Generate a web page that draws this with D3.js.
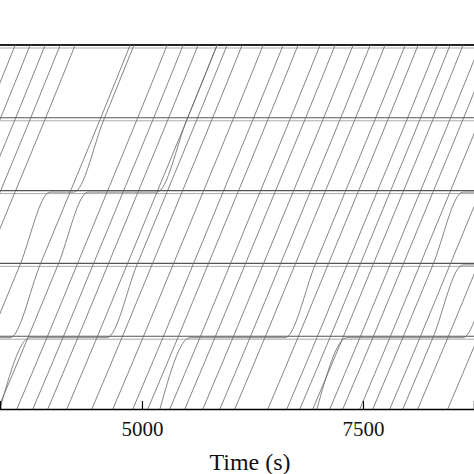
<!DOCTYPE html>
<html>
<head>
<meta charset="utf-8">
<script src="https://d3js.org/d3.v7.min.js"></script>
<style>
  body { margin: 0; background: #fff; }
</style>
</head>
<body>
<svg id="chart" width="474" height="474"></svg>
<script>
// departure times at the first station (s)
var departures = [1696, 1866, 2035, 2205, 2375, 2544, 2940, 2997, 3370, 3393,
  3585, 3766, 3935, 4150, 4433, 4671, 4897, 5066, 5203, 5315, 5485, 5689, 5882,
  6050, 6424, 6639, 6786, 6933, 6979, 7125, 7272, 7464, 7611, 7804, 7951, 8120,
  8459];
// dwells: [departure time of train, station index, dwell (s)]
var dwells = [
  [2997, 1, 170], [3393, 1, 870], [5203, 1, 1075], [6979, 1, 1312],
  [2940, 3, 270], [3370, 3, 780], [7611, 3, 600], [7951, 2, 600]
];
var stations = [0, 1, 2, 3, 4, 5];
var runTime = 340;
var xTicks = [5000, 7500];

var svg = d3.select("#chart");
var x = d3.scaleLinear().domain([3394, 8756]).range([0, 474]);
var y = d3.scaleLinear().domain([0, 5]).range([409, 45]);

svg.append("defs").append("clipPath").attr("id", "clip")
  .append("rect").attr("x", 0).attr("y", 44).attr("width", 474).attr("height", 366);

// station tracks
stations.slice(1).forEach(function(s){
  svg.append("line").attr("x1", 0).attr("x2", 474)
    .attr("y1", y(s)).attr("y2", y(s))
    .attr("stroke", s === 5 ? "#222" : "#555").attr("stroke-width", s === 5 ? 2 : 1.1);
  svg.append("line").attr("x1", 0).attr("x2", 474)
    .attr("y1", y(s) + 3).attr("y2", y(s) + 3)
    .attr("stroke", "#aaa").attr("stroke-width", 1);
});

// build train paths
var trains = departures.map(function(d){
  var pts = [], t = d;
  stations.forEach(function(s){
    if (s > 0) t += runTime;
    pts.push([t, s]);
    var dw = dwells.filter(function(w){ return w[0] === d && w[1] === s; });
    if (dw.length) { t += dw[0][2]; pts.push([t, s]); }
  });
  return pts;
});

var line = d3.line()
  .x(function(p){ return x(p[0]); })
  .y(function(p){ return y(p[1]) + (p[1] > 0 && p[1] < 5 ? 1.5 : 0); })
  .curve(d3.curveMonotoneX);

svg.append("g").attr("clip-path", "url(#clip)")
  .selectAll("path").data(trains).join("path")
  .attr("d", line)
  .attr("fill", "none")
  .attr("stroke", "#666")
  .attr("stroke-width", 0.8);

// x axis
var axis = svg.append("g").attr("transform", "translate(0,409)")
  .call(d3.axisBottom(x).tickValues(xTicks).tickSize(-8).tickPadding(12).tickFormat(d3.format("d")));
axis.select(".domain").attr("stroke", "#000").attr("stroke-width", 1.5);
axis.selectAll(".tick line").attr("stroke", "#000").attr("stroke-width", 1.2);
axis.selectAll("text").attr("font-family", "Liberation Serif").attr("font-size", 21).attr("fill", "#111");

svg.append("text").attr("x", 250).attr("y", 470).attr("text-anchor", "middle")
  .attr("font-family", "Liberation Serif").attr("font-size", 24).attr("fill", "#111")
  .text("Time (s)");
</script>
</body>
</html>
